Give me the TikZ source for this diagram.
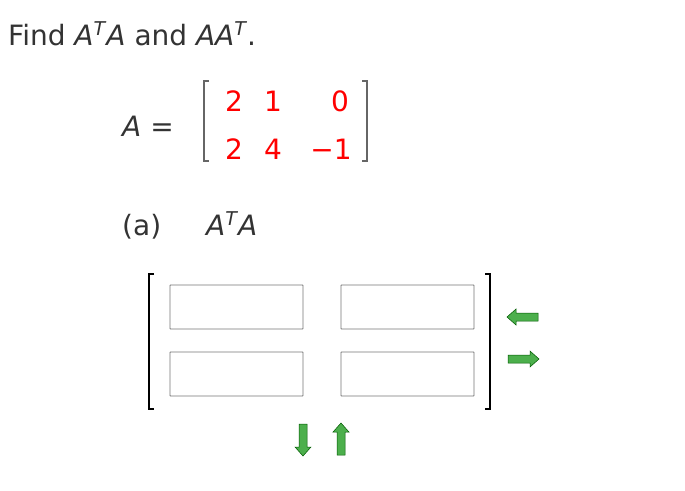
\documentclass[tikz,border=0pt]{standalone}
\usepackage{fontspec}
\setmainfont{DejaVu Sans}
\begin{document}
\begin{tikzpicture}[x=1pt,y=-1pt,
  txt/.style={anchor=base west,inner sep=0pt,font=\fontsize{28}{32}\selectfont,text=black!80},
  red/.style={anchor=base,inner sep=0pt,font=\fontsize{28}{32}\selectfont,text=red},
  cell/.style={draw=black!55,line width=0.8pt,minimum width=133pt,minimum height=44pt,inner sep=0pt,rounded corners=0.5pt},
  brk/.style={line width=1.2pt},
  sbrk/.style={line width=2.2pt,draw=black!60},
  garrow/.style={fill=green!55!black!70,draw=green!35!black,line width=0.5pt}]
\useasboundingbox (0,0) rectangle (685,490);
\newcommand\supT{\raisebox{0.6ex}{\fontsize{19}{19}\selectfont\textit{T}}}
\node[txt] (title) at (8,45) {Find \textit{A}\supT\textit{A} and \textit{AA}\supT.};
\node[txt] (Aeq) at (122,136) {\textit{A} =};
\draw[sbrk] (209,81) -- (204,81) -- (204,161) -- (209,161);
\draw[sbrk] (362,81) -- (367,81) -- (367,161) -- (362,161);
\node[red] (a11) at (234,111) {2};
\node[red] (a12) at (273,111) {1};
\node[red] (a13) at (340,111) {0};
\node[red] (a21) at (234,159) {2};
\node[red] (a22) at (273,159) {4};
\node[red] (a23) at (331,159) {−1};
\node[txt] (parta) at (122,235) {(a)};
\node[txt] (ata) at (206,235) {\textit{A}\supT\textit{A}};
\draw[brk] (154,274) -- (149,274) -- (149,409) -- (154,409);
\draw[brk] (485,274) -- (490,274) -- (490,409) -- (485,409);
\node[cell] (c11) at (236.5,307) {};
\node[cell] (c12) at (407.5,307) {};
\node[cell] (c21) at (236.5,374) {};
\node[cell] (c22) at (407.5,374) {};
\draw[garrow] (507,317) -- (516,309) -- (516,313) -- (538,313) -- (538,321) -- (516,321) -- (516,325) -- cycle;
\draw[garrow] (539,359) -- (530,351) -- (530,355) -- (508,355) -- (508,363) -- (530,363) -- (530,367) -- cycle;
\draw[garrow] (303,456) -- (295,447) -- (299,447) -- (299,424) -- (307,424) -- (307,447) -- (311,447) -- cycle;
\draw[garrow] (341,423) -- (333,432) -- (337,432) -- (337,455) -- (345,455) -- (345,432) -- (349,432) -- cycle;
\end{tikzpicture}
\end{document}
